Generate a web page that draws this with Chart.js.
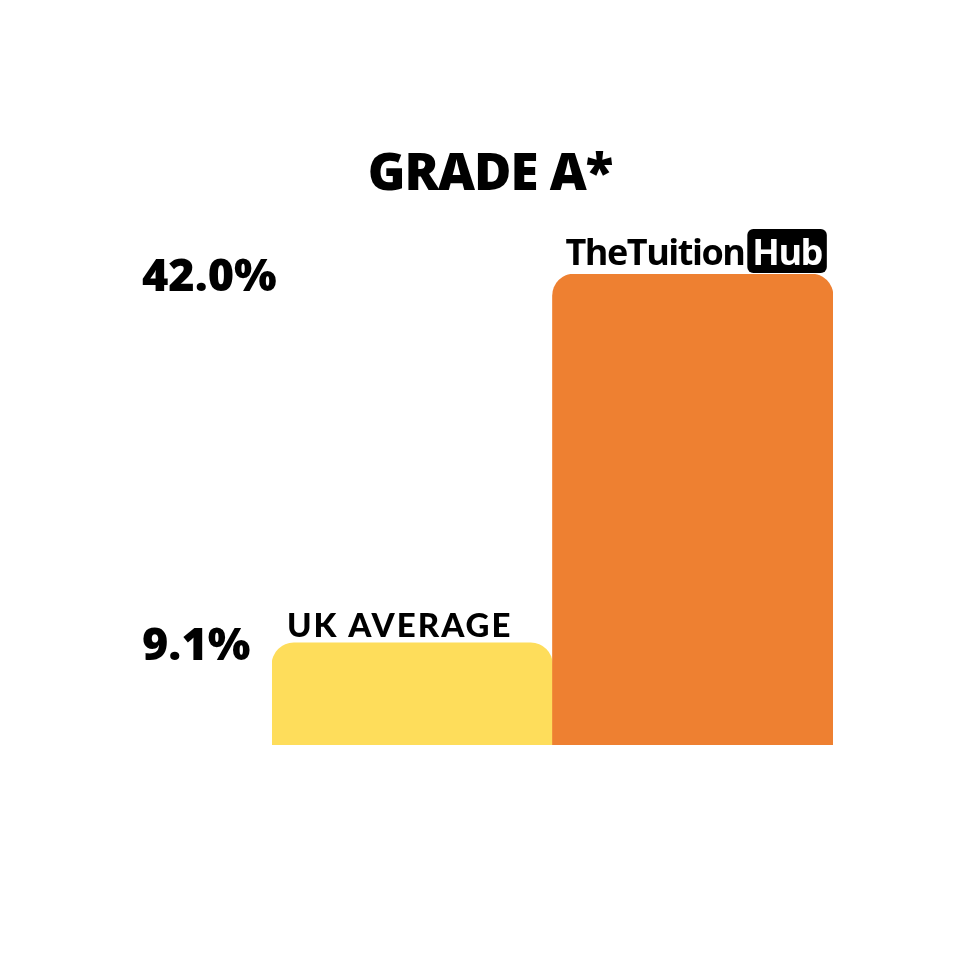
<!DOCTYPE html>
<html>
<head>
<meta charset="utf-8">
<script src="https://cdn.jsdelivr.net/npm/chart.js@4"></script>
<style>
  body { margin: 0; background: #fff; }
</style>
</head>
<body>
<canvas id="gradeChart" width="980" height="980"></canvas>
<script>
const categories = ['UK AVERAGE', 'TheTuitionHub'];
const values = [9.1, 42.0];
const badgeWords = ['', 'Hub'];   // part of the label shown white on a black badge
const barColors = ['#FEDD5B', '#EE8031'];
const titleText = 'GRADE A*';

// title centred on the whole canvas, not on the chart area
const pageTitle = {
    id: 'pageTitle',
    afterDraw(chart) {
        const ctx = chart.ctx;
        ctx.save();
        ctx.fillStyle = '#000';
        ctx.textAlign = 'center';
        ctx.textBaseline = 'alphabetic';
        ctx.font = '800 51px "Open Sans"';
        ctx.letterSpacing = '-1px';
        ctx.fillText(titleText, chart.width / 2, 190);
        ctx.restore();
    }
};

// value labels on the left and the category names above the bars
const barLabels = {
    id: 'barLabels',
    afterDatasetsDraw(chart) {
        const ctx = chart.ctx;
        const bars = chart.getDatasetMeta(0).data;
        ctx.save();
        bars.forEach(function (bar, i) {
            const left = bar.x - bar.width / 2;

            ctx.fillStyle = '#000';
            ctx.textAlign = 'left';
            ctx.textBaseline = 'middle';
            ctx.font = '800 45px "Open Sans"';
            ctx.fillText(values[i].toFixed(1) + '%', 142, bar.y + 4);

            ctx.textBaseline = 'alphabetic';
            const badge = badgeWords[i];
            if (badge) {
                const main = categories[i].slice(0, categories[i].length - badge.length);
                ctx.font = 'bold 36px "Open Sans"';
                ctx.letterSpacing = '-1.5px';
                const base = bar.y - 9;
                ctx.fillText(main, left + 13, base);
                const w = ctx.measureText(main).width;
                const bw = ctx.measureText(badge).width;
                const bx = left + 13 + w + 3;
                ctx.beginPath();
                ctx.roundRect(bx, base - 36, bw + 10, 44, 6);
                ctx.fill();
                ctx.fillStyle = '#fff';
                ctx.fillText(badge, bx + 5, base);
            } else {
                ctx.font = '900 33px "Lato"';
                ctx.letterSpacing = '2px';
                ctx.fillText(categories[i], left + 15, bar.y - 6);
            }
            ctx.letterSpacing = '0px';
        });
        ctx.restore();
    }
};

new Chart(document.getElementById('gradeChart').getContext('2d'), {
    type: 'bar',
    data: {
        labels: categories,
        datasets: [{
            data: values,
            backgroundColor: barColors,
            borderWidth: 0,
            borderSkipped: 'bottom',
            borderRadius: { topLeft: 22, topRight: 22, bottomLeft: 0, bottomRight: 0 },
            barPercentage: 1,
            categoryPercentage: 1
        }]
    },
    options: {
        responsive: false,
        animation: false,
        layout: {
            padding: { left: 272, right: 147, top: 274, bottom: 235 }
        },
        plugins: {
            legend: { display: false },
            tooltip: { enabled: false },
            title: { display: false }
        },
        scales: {
            x: { display: false },
            y: { display: false, min: 0, max: 42 }
        }
    },
    plugins: [barLabels, pageTitle]
});
</script>
</body>
</html>
